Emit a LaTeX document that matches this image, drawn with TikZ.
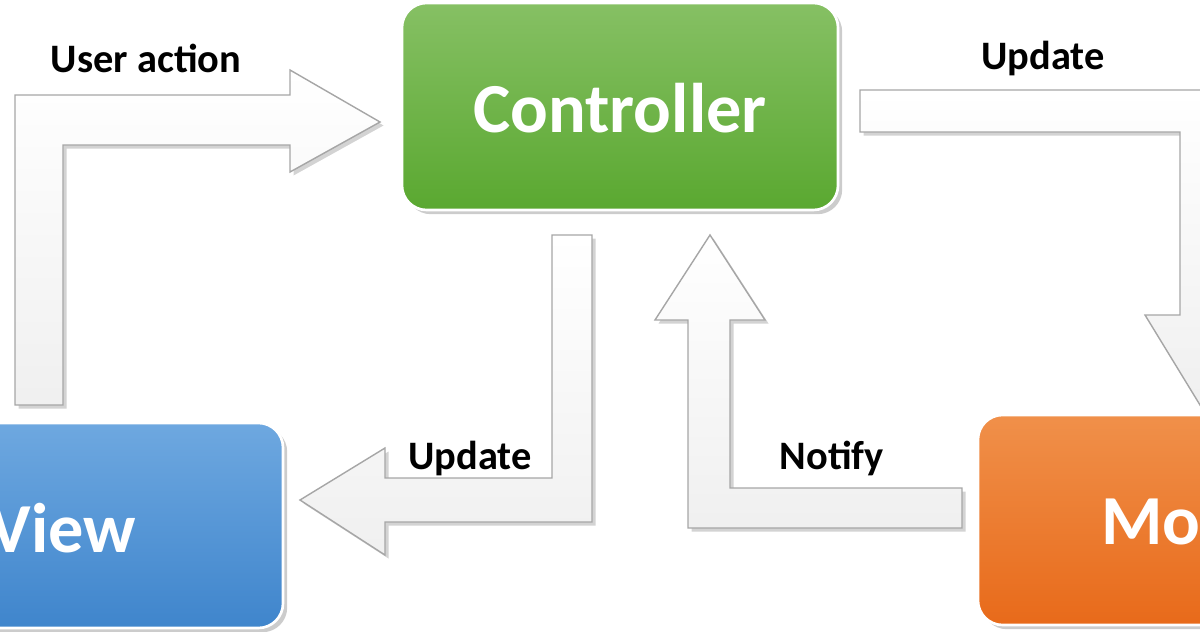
\documentclass[tikz,border=0pt]{standalone}
\usepackage{fontspec}
\setmainfont{Carlito}
\usetikzlibrary{shadows}
\definecolor{vtop}{HTML}{6EA8E0}
\definecolor{vbot}{HTML}{3F85CC}
\definecolor{ctop}{HTML}{86C064}
\definecolor{cbot}{HTML}{5AA830}
\definecolor{mtop}{HTML}{F0904A}
\definecolor{mbot}{HTML}{E86A1A}
\begin{document}
\begin{tikzpicture}[x=0.02cm,y=-0.02cm,
  arr/.style={draw=gray!70,line width=0.8pt,top color=white,bottom color=gray!12,drop shadow={opacity=0.35,shadow xshift=2pt,shadow yshift=-2pt}},
  box/.style={rounded corners=14pt,draw=white,line width=1.5pt,drop shadow={opacity=0.4}},
  boxtxt/.style={text=white,font=\bfseries\fontsize{40}{44}\selectfont},
  lbl/.style={font=\bfseries\fontsize{23}{26}\selectfont}]
\useasboundingbox (0,0) rectangle (1200,632);
\begin{scope}
\clip (0,0) rectangle (1200,632);
\path[arr] (15,405)--(15,95)--(290,95)--(290,70)--(380,122)--(290,172)--(290,145)--(63,145)--(63,405)--cycle;
\path[arr] (860,90)--(1225,90)--(1225,315)--(1250,315)--(1200,405)--(1145,315)--(1180,315)--(1180,132)--(860,132)--cycle;
\path[arr] (552,235)--(592,235)--(592,522)--(385,522)--(385,555)--(300,500)--(385,448)--(385,478)--(552,478)--cycle;
\path[arr] (962,488)--(962,528)--(688,528)--(688,320)--(655,320)--(710,235)--(765,320)--(730,320)--(730,488)--cycle;
\path[box,top color=ctop,bottom color=cbot] (402,3) rectangle (838,210);
\path[box,top color=vtop,bottom color=vbot] (-160,423) rectangle (283,628);
\path[box,top color=mtop,bottom color=mbot] (978,415) rectangle (1400,625);
\end{scope}
\node[boxtxt] (ct) at (620,108) {Controller};
\node[boxtxt,anchor=east] (vw) at (142,528) {View};
\node[boxtxt,anchor=west] (md) at (1095,520) {Model};
\node[lbl] (l1) at (146,58) {User action};
\node[lbl] (l2) at (1043,58) {Update};
\node[lbl] (l3) at (470,458) {Update};
\node[lbl] (l4) at (832,458) {Notify};
\end{tikzpicture}
\end{document}
